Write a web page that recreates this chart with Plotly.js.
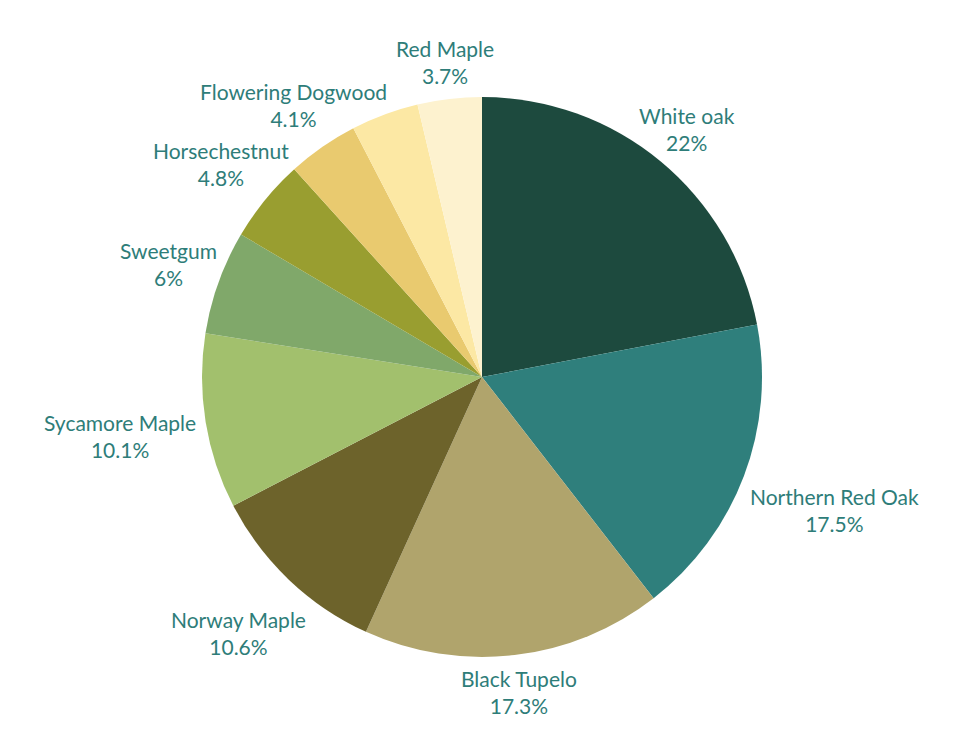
<!DOCTYPE html>
<html>
<head>
<meta charset="utf-8">
<script src="https://cdn.plot.ly/plotly-3.0.1.min.js"></script>
<style>
  html, body { margin: 0; padding: 0; background: #fff; }
  #chart { width: 966px; height: 744px; }
</style>
</head>
<body>
<div id="chart"></div>
<script>
// slices clockwise from 12 o'clock
const species = [
  'White oak', 'Northern Red Oak', 'Black Tupelo', 'Norway Maple', 'Sycamore Maple',
  'Sweetgum', 'Horsechestnut', 'Flowering Dogwood', 'Other', 'Red Maple'
];
const shares = [22, 17.5, 17.3, 10.6, 10.1, 6, 4.8, 4.1, 3.9, 3.7];
const showLabel = [true, true, true, true, true, true, true, true, false, true];
const sliceColors = [
  '#1d4a3e', '#2f7f7c', '#b0a46c', '#6d632b', '#a2c06d',
  '#80a86a', '#999e30', '#e9ca6f', '#fce8a4', '#fdf2cf'
];

const W = 966;
const H = 744;
const MARGIN = { l: 0, r: 2, t: 97, b: 87 };
const FONT_FAMILY = 'Lato';
const FONT_SIZE = 21;
const LINE_H = FONT_SIZE * 1.3;
const LABEL_COLOR = '#2e7d79';
const LABEL_GAP = 8;

const measure = (() => {
  const ctx = document.createElement('canvas').getContext('2d');
  return (txt) => {
    ctx.font = `${FONT_SIZE}px ${FONT_FAMILY}`;
    return ctx.measureText(txt).width;
  };
})();

// distance from pie centre to the closest point of a box (y up)
const boxDist = (x0, x1, y0, y1) => {
  const nx = Math.min(Math.max(0, x0), x1);
  const ny = Math.min(Math.max(0, y0), y1);
  return Math.hypot(nx, ny);
};

// push the two-line label out along the slice's mid-angle until
// neither line comes closer than radius + gap
const labelDistance = (s, c, halfW1, halfW2, limit) => {
  const clear = (t) => {
    const x = t * s;
    const y = t * c;
    const d1 = boxDist(x - halfW1, x + halfW1, y, y + LINE_H);
    const d2 = boxDist(x - halfW2, x + halfW2, y - LINE_H, y);
    return Math.min(d1, d2) >= limit;
  };
  let lo = 0;
  let hi = limit + 400;
  for (let k = 0; k < 40; k++) {
    const m = (lo + hi) / 2;
    if (clear(m)) hi = m; else lo = m;
  }
  return hi;
};

const buildLabels = () => {
  const plotW = W - MARGIN.l - MARGIN.r;
  const plotH = H - MARGIN.t - MARGIN.b;
  const radius = Math.min(plotW, plotH) / 2;
  const cx = MARGIN.l + plotW / 2;
  const cy = MARGIN.t + plotH / 2;
  const total = shares.reduce((a, b) => a + b, 0);

  let acc = 0;
  const notes = [];
  shares.forEach((v, i) => {
    const mid = ((acc + v / 2) / total) * 2 * Math.PI;
    acc += v;
    if (!showLabel[i]) return;
    const pct = `${v}%`;
    const s = Math.sin(mid);
    const c = Math.cos(mid);
    const dist = labelDistance(s, c, measure(species[i]) / 2, measure(pct) / 2, radius + LABEL_GAP);
    const px = cx + dist * s;
    const py = cy - dist * c;
    notes.push({
      xref: 'paper',
      yref: 'paper',
      x: (px - MARGIN.l) / plotW,
      y: (H - MARGIN.b - py) / plotH,
      xanchor: 'center',
      yanchor: 'middle',
      showarrow: false,
      align: 'center',
      text: `${species[i]}<br>${pct}`,
      font: { family: FONT_FAMILY, size: FONT_SIZE, color: LABEL_COLOR }
    });
  });
  return notes;
};

const draw = () => {
  const data = [{
    type: 'pie',
    labels: species,
    values: shares,
    sort: false,
    direction: 'clockwise',
    rotation: 0,
    marker: { colors: sliceColors, line: { width: 0 } },
    textinfo: 'none',
    hoverinfo: 'label+percent',
    showlegend: false
  }];

  const layout = {
    width: W,
    height: H,
    margin: MARGIN,
    paper_bgcolor: '#fff',
    showlegend: false,
    annotations: buildLabels()
  };

  Plotly.newPlot('chart', data, layout, { displayModeBar: false, staticPlot: true });
};

if (document.fonts && document.fonts.load) {
  document.fonts.load(`${FONT_SIZE}px ${FONT_FAMILY}`).then(draw, draw);
} else {
  draw();
}
</script>
</body>
</html>
